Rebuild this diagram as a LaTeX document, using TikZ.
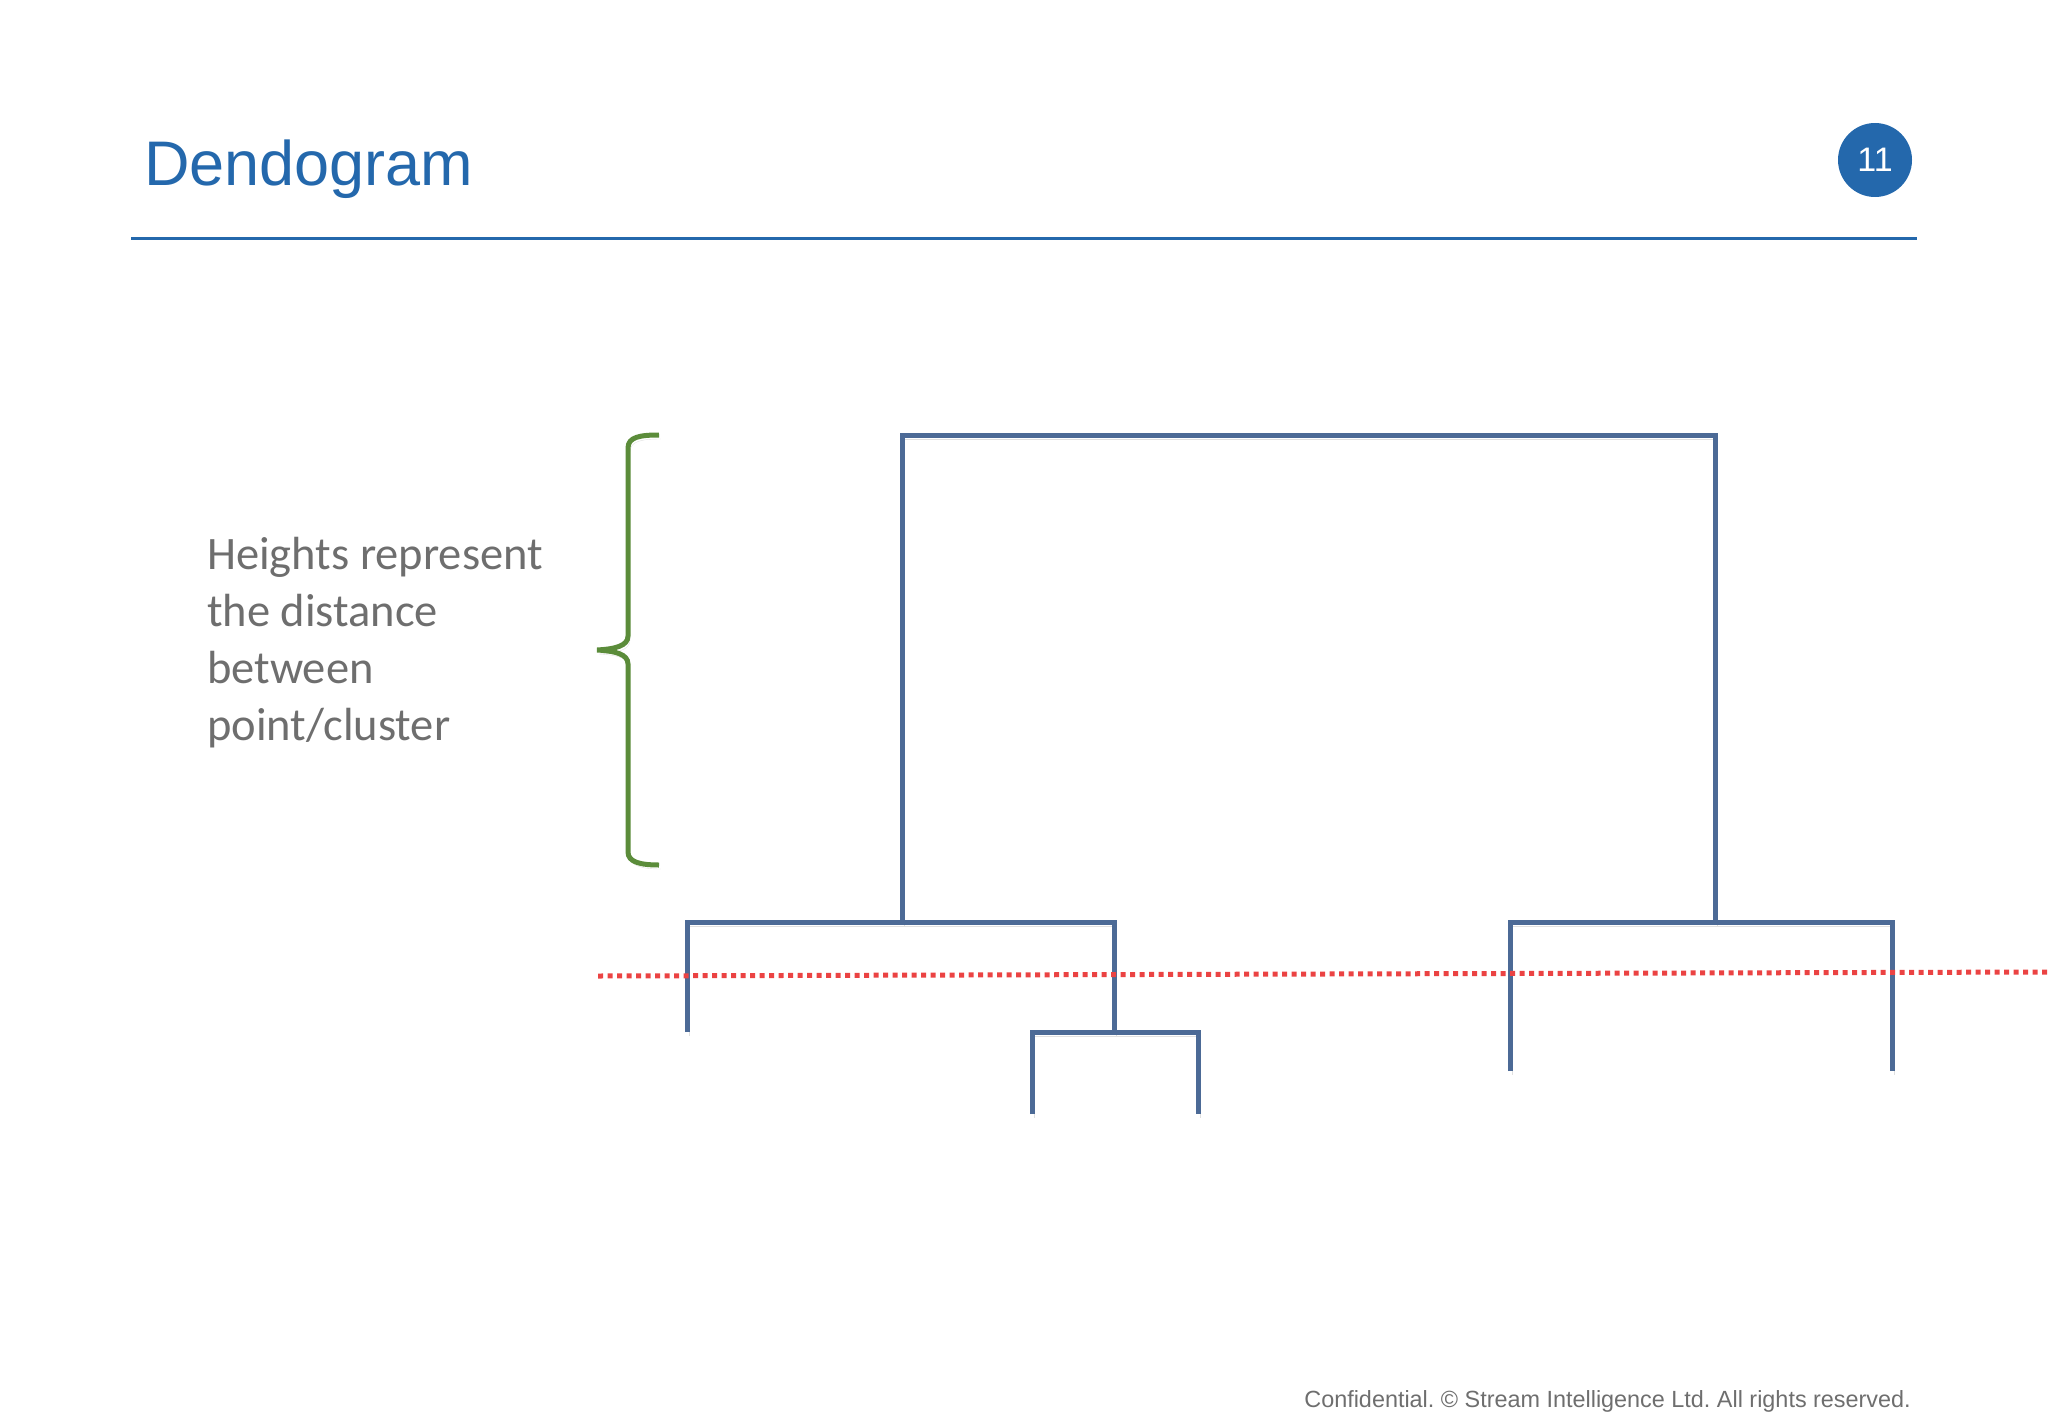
\documentclass[tikz,border=0pt]{standalone}
\usepackage{fontspec}
\setmainfont{Liberation Sans}
\newfontfamily\calibri{Carlito}
\definecolor{titleblue}{HTML}{2468AC}
\definecolor{treeblue}{HTML}{4C6A96}
\definecolor{bracegreen}{HTML}{5B8C3A}
\definecolor{cutred}{HTML}{EB4343}
\definecolor{txtgray}{HTML}{6E6E6E}
\frenchspacing
\begin{document}
\begin{tikzpicture}[x=1pt,y=-1pt,
  dropshadow/.style={preaction={draw=black!12,transform canvas={shift={(2pt,-4pt)}}}},
  tree/.style={treeblue,line width=5pt,line join=miter,dropshadow}]
\useasboundingbox (0,0) rectangle (2048,1418);
\node[anchor=base west,inner sep=0,text=titleblue,font=\fontsize{63}{63}\selectfont] (title) at (144,185) {Dendogram};
\draw[titleblue,line width=3pt] (131,238)--(1917,238);
\node[circle,fill=titleblue,minimum size=74pt,inner sep=0,text=white,font=\fontsize{34}{34}\selectfont] (page) at (1875,160) {11};
\node[anchor=north west,inner sep=0,align=left,text=txtgray,font=\calibri\fontsize{46.5}{57}\selectfont] (note) at (207,537) {Heights represent\\the distance\\between\\point/cluster};
% brace
\draw[bracegreen,line width=5pt,dropshadow] (659,435) .. controls (640,435) and (628,437) .. (628,448) -- (628,636) .. controls (628,646) and (615,649) .. (597,650) .. controls (615,651) and (628,654) .. (628,664) -- (628,852) .. controls (628,862) and (640,865) .. (659,865);
% tree
\draw[tree] (902,922)--(902,435)--(1715,435)--(1715,922);
\draw[tree] (687,1032)--(687,922)--(1114,922)--(1114,1032);
\draw[tree] (1032,1114)--(1032,1032)--(1198,1032)--(1198,1114);
\draw[tree] (1510,1071)--(1510,922)--(1892,922)--(1892,1071);
\draw[cutred,line width=5pt,dash pattern=on 5pt off 4.5pt] (598,976)--(2048,972);
\node[anchor=base east,inner sep=0,text=txtgray,font=\fontsize{23.4}{24}\selectfont] (footer) at (1911,1407) {Confidential. \textcopyright{} Stream Intelligence Ltd. All rights reserved.};
\end{tikzpicture}
\end{document}
